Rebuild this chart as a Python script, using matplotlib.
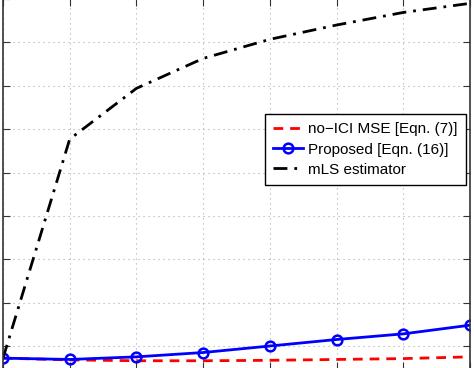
import matplotlib
matplotlib.use("Agg")
import matplotlib.pyplot as plt

x = [0, 1, 2, 3, 4, 5, 6, 7]
no_ici = [-0.28, -0.32, -0.34, -0.34, -0.33, -0.31, -0.29, -0.25]
proposed = [-0.28, -0.31, -0.25, -0.15, 0.0, 0.15, 0.28, 0.48]
mls = [-0.28, 4.77, 5.94, 6.63, 7.07, 7.40, 7.69, 7.90]
labels = ["no\u2212ICI MSE [Eqn. (7)]", "Proposed [Eqn. (16)]", "mLS estimator"]

plt.rcParams['font.family'] = ['Liberation Sans', 'DejaVu Sans']
fig = plt.figure(figsize=(4.74, 3.68), dpi=100)
ax = fig.add_axes([3/474, -1/368, 467/474, 370/368])

ax.plot(x, no_ici, color='#ff0000', linestyle=(0, (3.5, 2.5)), linewidth=2, label=labels[0])
ax.plot(x, proposed, color='#0000ff', linewidth=2, marker='o', markersize=7,
        markerfacecolor='none', markeredgewidth=1.8, label=labels[1])
ax.plot(x, mls, color='black', linestyle=(0, (5, 2.5, 1, 2.5)), linewidth=2, label=labels[2])

ax.set_xlim(0, 7)
ax.set_ylim(-0.53, 8)
ax.set_xticks(x)
ax.set_yticks(range(0, 9))
ax.tick_params(direction='in', length=5, width=0.8, top=True, right=True,
               labelbottom=False, labelleft=False, color='#333333')
ax.grid(True, linestyle=(0, (1, 3.5)), color='#aaaaaa', linewidth=0.8)
for s in ax.spines.values():
    s.set_linewidth(1.2)
    s.set_color('#333333')

leg = ax.legend(loc='upper right', bbox_to_anchor=(0.9914, 0.689), borderaxespad=0,
                fontsize=11, fancybox=False, framealpha=1, edgecolor='black',
                handlelength=2.0, labelspacing=0.4, borderpad=0.55, handletextpad=0.3)
leg.get_frame().set_linewidth(1.0)

fig.savefig("out.png", dpi=100)
